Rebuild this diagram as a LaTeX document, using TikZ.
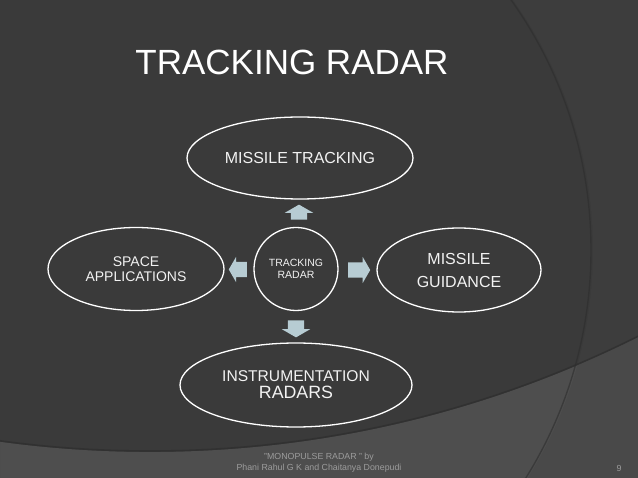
\documentclass[tikz,border=0pt]{standalone}
\usepackage{fontspec}
\setmainfont{Liberation Sans}
\usetikzlibrary{shapes.geometric, shapes.arrows}
\definecolor{slatebg}{HTML}{3A3A3A}
\definecolor{slateside}{HTML}{3D3D3D}
\definecolor{slateband}{HTML}{4E4E4E}
\definecolor{slatebandside}{HTML}{494949}
\definecolor{slateshadow}{HTML}{2E2E2E}
\definecolor{arrowblue}{HTML}{B7CCD3}
\definecolor{textwhite}{HTML}{F2F2F2}
\definecolor{footgray}{HTML}{9C9C9C}

\begin{document}
\begin{tikzpicture}[x=1pt, y=-1pt,
    bubble/.style={ellipse, draw=white, line width=1.3pt, inner sep=0pt,
                   align=center, text=textwhite},
    blockarrow/.style={single arrow, fill=arrowblue, inner xsep=0pt,
                       inner ysep=8pt, single arrow head extend=6pt,
                       single arrow tip angle=120},
    footnote/.style={text=footgray, align=center,
                     font=\fontsize{8.8}{11}\selectfont}]
  % slide background
  \useasboundingbox (0,0) rectangle (638,478);
  \fill[slatebg] (0,0) rectangle (638,478);
  \begin{scope}
    \clip (0,0) rectangle (638,478);
    \fill[slateside, even odd rule] (0,0) rectangle (638,478) (162,250) circle (431);
    \begin{scope}[even odd rule]
      \clip (-10,-10) rectangle (650,490) (150,-641) circle (1093);
      \fill[slateband] (0,0) rectangle (638,478);
      \fill[slatebandside] (0,0) rectangle (638,478) (162,250) circle (431);
    \end{scope}
    \draw[slateshadow, line width=1.4pt, opacity=.6] (160,250) circle (431);
    \draw[slateshadow, line width=1.6pt, opacity=.7] (150,-642) circle (1093);
  \end{scope}

  % title
  \node[text=white, font=\fontsize{35}{42}\selectfont] (title) at (292,62) {TRACKING RADAR};

  % ellipses
  \node[bubble, minimum width=226pt, minimum height=82pt,
        font=\fontsize{16}{19}\selectfont] (track) at (300,158) {MISSILE TRACKING};
  \node[bubble, minimum width=84pt, minimum height=83pt,
        font=\fontsize{10.5}{11.5}\selectfont] (core) at (296,269) {TRACKING\\RADAR};
  \node[bubble, minimum width=176pt, minimum height=83pt,
        font=\fontsize{14}{15}\selectfont] (space) at (136,269) {SPACE\\APPLICATIONS};
  \node[bubble, minimum width=164pt, minimum height=84pt,
        font=\fontsize{16}{23}\selectfont] (guide) at (459,270) {MISSILE\\GUIDANCE};
  \node[bubble, minimum width=232pt, minimum height=84pt,
        font=\fontsize{15.6}{17}\selectfont] (instr) at (296,385)
        {INSTRUMENTATION\\{\fontsize{17.8}{17}\selectfont RADARS}};

  % block arrows
  \node[blockarrow, minimum height=15pt, rotate=90] (toptr) at (299,214.5) {};
  \node[blockarrow, minimum height=18pt, rotate=180, inner ysep=7.5pt,
        single arrow head extend=5pt] (tospace) at (240,269.5) {};
  \node[blockarrow, minimum height=22pt, inner ysep=7.5pt,
        single arrow head extend=5.5pt] (toguide) at (357,270) {};
  \node[blockarrow, minimum height=17pt, rotate=-90] (toinstr) at (296,326.5) {};

  % footer
  \node[footnote] (credit) at (319,462.5) {"MONOPULSE RADAR " by\\Phani Rahul G K and Chaitanya Donepudi};
  \node[footnote] (pageno) at (619,468) {9};
\end{tikzpicture}
\end{document}
